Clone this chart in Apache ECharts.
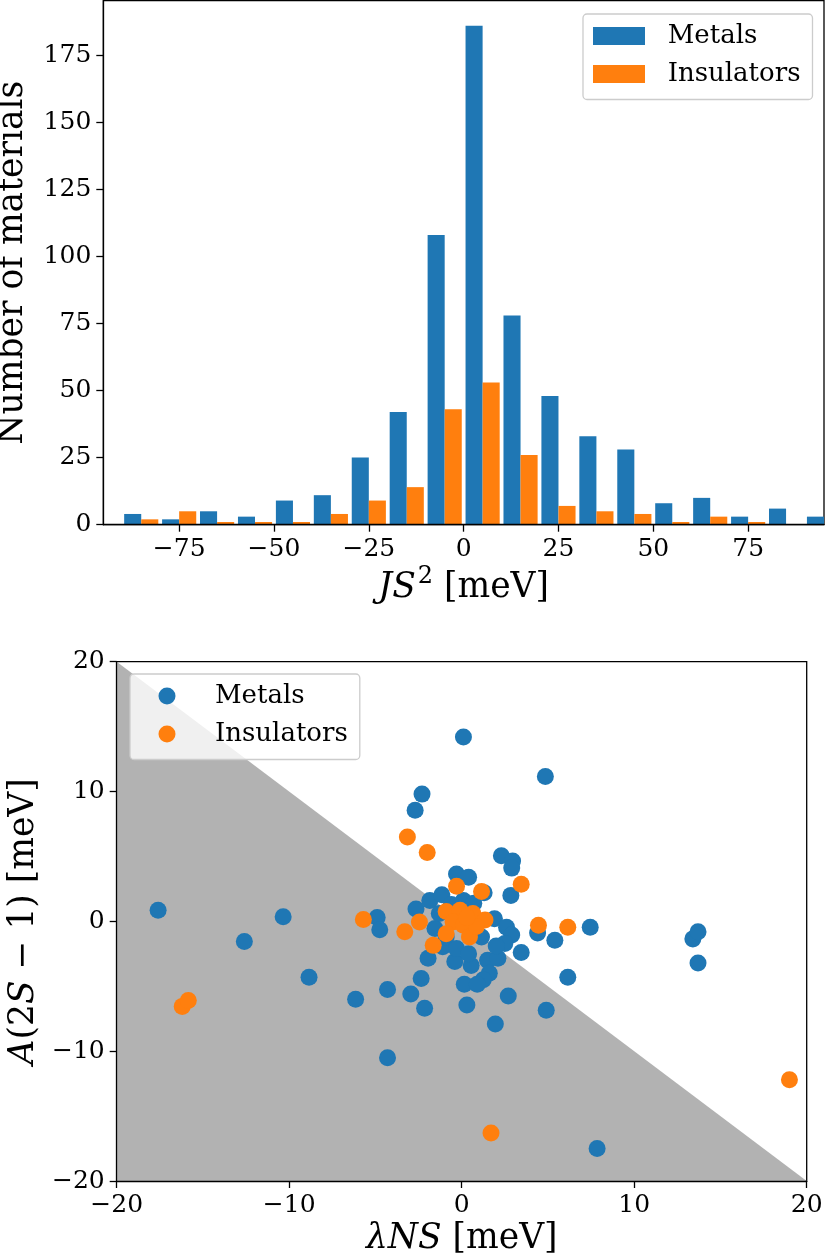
<!DOCTYPE html>
<html>
<head>
<meta charset="utf-8">
<script src="https://cdn.jsdelivr.net/npm/echarts@6/dist/echarts.min.js"></script>
<style>
  html, body { margin: 0; padding: 0; background: #fff; }
  #chart { width: 825px; height: 1257px; }
</style>
</head>
<body>
<div id="chart"></div>
<script>
// --- histogram (top): left edge of each 10 meV bin, counts per bin ---
var binStarts = [-90, -80, -70, -60, -50, -40, -30, -20, -10, 0, 10, 20, 30, 40, 50, 60, 70, 80, 90];
var metalsCounts = [4, 2, 5, 3, 9, 11, 25, 42, 108, 186, 78, 48, 33, 28, 8, 10, 3, 6, 3];
var insulatorsCounts = [2, 5, 1, 1, 1, 4, 9, 14, 43, 53, 26, 7, 5, 4, 1, 3, 1, 0, 0];
var histTicksX = [-75, -50, -25, 0, 25, 50, 75];
var histTicksY = [0, 25, 50, 75, 100, 125, 150, 175];

// --- scatter (bottom): [lambda N S, A(2S-1)] in meV ---
var metalsPoints = [
    [-17.6, 0.85], [-12.6, -1.55], [-10.35, 0.35], [-8.85, -4.3], [-6.15, -6.0],
    [-4.9, 0.3], [-4.75, -0.65], [-4.3, -5.25], [-4.3, -10.5], [-2.95, -5.6],
    [-2.65, 0.95], [-2.7, 8.55], [-2.3, 9.8], [-2.35, -4.4], [-2.15, -6.7],
    [0.1, 14.2], [4.85, 11.15], [2.3, 5.05], [2.95, 4.65], [2.9, 4.1],
    [-0.3, 3.65], [0.4, 3.4], [1.3, 2.2], [2.85, 2.0], [-1.85, 1.6],
    [-1.15, 2.05], [0.1, 1.6], [-1.55, -0.55], [1.9, 0.2], [2.6, -0.45],
    [2.9, -1.05], [2.5, -1.7], [3.45, -2.4], [1.15, -1.2], [-1.1, -1.95],
    [-1.95, -2.85], [-0.4, -3.1], [0.55, -3.4], [1.5, -3.0], [2.1, -2.85],
    [1.6, -4.0], [1.25, -4.5], [0.15, -4.85], [0.9, -4.85], [0.3, -6.45],
    [2.7, -5.75], [4.9, -6.85], [1.95, -7.9], [5.4, -1.45], [4.4, -0.9],
    [6.15, -4.3], [7.45, -0.45], [13.4, -1.35], [13.7, -0.8], [13.7, -3.2],
    [7.85, -17.5], [-0.9, -1.2], [-0.3, -2.1], [0.4, -2.5], [-1.3, 0.6],
    [2.0, -1.9], [-0.6, 1.3], [0.7, 1.4]
];
var insulatorsPoints = [
    [-16.2, -6.55], [-15.85, -6.1], [-5.7, 0.15], [-3.3, -0.8], [-3.15, 6.5],
    [-2.0, 5.3], [-2.45, -0.05], [-1.65, -1.85], [-0.3, 2.7], [1.15, 2.3],
    [3.45, 2.85], [4.45, -0.3], [6.15, -0.45], [1.7, -16.3], [19.0, -12.2],
    [-0.9, 0.75], [-0.1, 0.85], [0.65, 0.6], [1.35, 0.1], [-0.5, -0.05],
    [0.1, -0.3], [-0.9, -0.95], [0.45, -1.2], [0.85, -0.4], [0.3, 0.3]
];
var scatterTicks = [-20, -10, 0, 10, 20];
// edge of the shaded region, x + y = 0
var stableEdge = [[-20, 20], [20, -20]];

var BLUE = '#1f77b4', ORANGE = '#ff7f0e';
var SERIF = 'DejaVu Serif';
var BAR_W = 4.5;   // half of 0.9 * bin width

function minus(v) { return String(v).replace('-', '\u2212'); }

var lineStyle = { color: '#000', width: 1.3 };

function valueAxis(grid, min, max, ticks, extra) {
    var ax = {
        gridIndex: grid, type: 'value', min: min, max: max, z: 10,
        axisLine: { show: true, onZero: false, lineStyle: lineStyle },
        axisTick: { show: true, length: 7, customValues: ticks, lineStyle: lineStyle },
        axisLabel: { customValues: ticks, formatter: minus, margin: 12, color: '#000', fontSize: 25, fontFamily: SERIF },
        splitLine: { show: false },
        nameLocation: 'middle',
        nameTextStyle: {
            color: '#000', fontSize: 34.5, fontFamily: SERIF,
            rich: {
                i: { fontStyle: 'italic', fontSize: 34.5, fontFamily: SERIF, color: '#000' },
                sup: { fontSize: 24, fontFamily: SERIF, color: '#000', padding: [0, 0, 23, 2] }
            }
        }
    };
    for (var k in extra) ax[k] = extra[k];
    return ax;
}

function histBars(name, counts, offset, color) {
    return {
        name: name, type: 'custom', xAxisIndex: 0, yAxisIndex: 0,
        itemStyle: { color: color },
        data: binStarts.map(function (b, i) { return [b, counts[i]]; }),
        encode: { x: 0, y: 1 },
        renderItem: function (params, api) {
            var left = api.value(0) + offset;
            var p0 = api.coord([left, api.value(1)]);
            var p1 = api.coord([left + BAR_W, 0]);
            var cs = params.coordSys;
            var shape = echarts.graphic.clipRectByRect(
                { x: p0[0], y: p0[1], width: p1[0] - p0[0], height: p1[1] - p0[1] },
                { x: cs.x, y: cs.y, width: cs.width, height: cs.height });
            return shape && { type: 'rect', shape: shape, style: { fill: color } };
        }
    };
}

function legendBox(left, top, icon, iconW, iconH, padLeft, textPad) {
    return {
        orient: 'vertical', left: left, top: top, selectedMode: false,
        data: [{ name: 'Metals', icon: icon }, { name: 'Insulators', icon: icon }],
        itemWidth: iconW, itemHeight: iconH, itemGap: 12,
        padding: [9, 12, 12.5, padLeft],
        backgroundColor: 'rgba(255,255,255,0.8)',
        borderColor: '#cccccc', borderWidth: 1.3, borderRadius: 4,
        textStyle: { color: '#000', fontSize: 26, fontFamily: SERIF, padding: [0, 0, 0, textPad] }
    };
}

var chart = echarts.init(document.getElementById('chart'), null, { renderer: 'canvas' });
chart.setOption({
    animation: false,
    backgroundColor: '#fff',
    grid: [
        { left: 103.3, right: 1, top: 0.7, height: 524, outerBoundsMode: 'none', show: true, borderColor: '#000', borderWidth: 1.3 },
        { left: 116.7, right: 18.3, top: 661.7, bottom: 76, outerBoundsMode: 'none', show: true, borderColor: '#000', borderWidth: 1.3 }
    ],
    xAxis: [
        valueAxis(0, -95, 95, histTicksX, { name: '{i|JS}{sup|2} [meV]', nameGap: 40 }),
        valueAxis(1, -20, 20, scatterTicks, { name: '{i|\u03bbNS} [meV]', nameGap: 41 })
    ],
    yAxis: [
        valueAxis(0, 0, 195.3, histTicksY, { name: 'Number of materials', nameGap: 73 }),
        valueAxis(1, -20, 20, scatterTicks, { name: '{i|A}(2{i|S} \u2212 1) [meV]', nameGap: 75 })
    ],
    legend: [
        legendBox(583, 14, 'rect', 52, 18, 10, 17.7),
        legendBox(130, 674, 'circle', 17, 17, 28.5, 34.5)
    ],
    series: [
        histBars('Metals', metalsCounts, 0.5, BLUE),
        histBars('Insulators', insulatorsCounts, 0.5 + BAR_W, ORANGE),
        {
            type: 'line', xAxisIndex: 1, yAxisIndex: 1, data: stableEdge,
            symbol: 'none', silent: true, z: 1,
            lineStyle: { width: 0, opacity: 0 },
            areaStyle: { color: '#b2b2b2', opacity: 1, origin: 'start' }
        },
        {
            name: 'Metals', type: 'scatter', xAxisIndex: 1, yAxisIndex: 1,
            data: metalsPoints, symbolSize: 17, itemStyle: { color: BLUE, opacity: 1 }, z: 3
        },
        {
            name: 'Insulators', type: 'scatter', xAxisIndex: 1, yAxisIndex: 1,
            data: insulatorsPoints, symbolSize: 17, itemStyle: { color: ORANGE, opacity: 1 }, z: 4
        }
    ]
});
</script>
</body>
</html>
